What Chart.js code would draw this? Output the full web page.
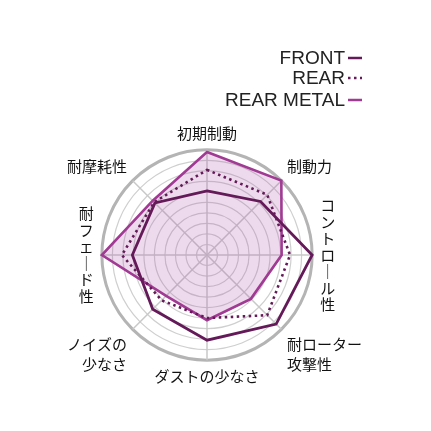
<!DOCTYPE html>
<html>
<head>
<meta charset="utf-8">
<script src="https://cdn.jsdelivr.net/npm/chart.js@4/dist/chart.umd.min.js"></script>
<style>
html,body{margin:0;padding:0;background:#fff}
#wrap{width:431px;height:431px}
</style>
</head>
<body>
<div id="wrap"><canvas id="radar" width="431" height="431"></canvas></div>
<script>
// axis labels, clockwise from top (vertical ones split per character)
let labels = [
"初期制動",
"制動力",
["コ","ン","ト","ロ","｜","ル","性"],
["耐ローター","攻撃性"],
"ダストの少なさ",
["ノイズの","少なさ"],
["耐","フ","ェ","｜","ド","性"],
"耐摩耗性"
]

let seriesNames = ["FRONT","REAR","REAR METAL"]
let front = [6.1, 7.2, 10, 9.3, 8.1, 7.3, 7.1, 7.0]
let rear = [8.1, 8.1, 7.9, 8.1, 6.0, 6.1, 8.1, 7.1]
let rearMetal = [9.8, 10, 7.1, 5.9, 6.2, 5.5, 10, 7.3]

let darkPurple = "#641a58"
let lightPurple = "#a03a93"

// legend drawn right aligned with the line sample after the text
let legendPlugin = {
id:"sideLegend",
afterDraw(chart){
let c = chart.ctx
c.save()
c.font = "19px 'Liberation Sans', Arial, sans-serif"
c.fillStyle = "#222"
c.textAlign = "right"
c.textBaseline = "middle"
let rows = [
{y:58, color:darkPurple, dash:[]},
{y:78, color:darkPurple, dash:[2.5,3.5]},
{y:100, color:lightPurple, dash:[]}
]
rows.forEach((r,i)=>{
c.fillText(seriesNames[i], 345, r.y+1)
c.beginPath()
c.setLineDash(r.dash)
c.strokeStyle = r.color
c.lineWidth = 2.5
c.moveTo(348, r.y)
c.lineTo(362, r.y)
c.stroke()
})
c.restore()
}
}

new Chart(document.getElementById("radar"),{
type:"radar",
data:{
labels:labels,
datasets:[
{label:seriesNames[0], data:front, borderColor:darkPurple, borderWidth:2.8, backgroundColor:"transparent", fill:false, pointRadius:0},
{label:seriesNames[1], data:rear, borderColor:darkPurple, borderWidth:2.6, borderDash:[2.5,3.5], backgroundColor:"transparent", fill:false, pointRadius:0},
{label:seriesNames[2], data:rearMetal, borderColor:lightPurple, borderWidth:2.6, backgroundColor:"rgba(170,80,165,0.21)", fill:true, pointRadius:0}
]
},
options:{
responsive:false,
animation:false,
layout:{padding:{top:122, bottom:42, left:63, right:58}},
plugins:{legend:{display:false}, tooltip:{enabled:false}},
elements:{line:{tension:0}},
scales:{
r:{
min:0,
max:10,
ticks:{stepSize:1, display:false},
grid:{
circular:true,
color:(ctx)=> ctx.index==10 ? "#b4b4b4" : "#cfcfcf",
lineWidth:(ctx)=> ctx.index==10 ? 3 : 1.2
},
angleLines:{color:"#c8c8c8", lineWidth:1.5},
pointLabels:{
color:"#111",
padding:8,
font:(ctx)=>({
family:"'Noto Sans CJK JP', sans-serif",
size:15,
lineHeight:(ctx.index==3 || ctx.index==5) ? 1.3 : 1.1
})
}
}
}
},
plugins:[legendPlugin]
})
</script>
</body>
</html>
